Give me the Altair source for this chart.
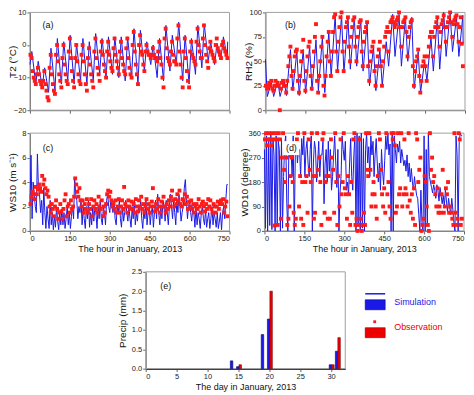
import altair as alt
import pandas as pd

FONT = "Liberation Sans"
BLUE = "#1a1ae8"
RED = "#ff1a1a"
FRAME = "#a0a0a0"
W = 200
H_TOP = 98
H_BOT = 97

OBS_HOURS = [2, 6, 10, 14, 18, 22]
SIM_HOURS = [0, 4, 8, 12, 16, 20]
HOUR_TICKS = [0, 150, 300, 450, 600, 750]
LAST_HOUR = 743

# ---------------- (a) T2 ----------------
t2_sim_first, t2_sim_last = -6, 1
t2_sim_max = [-2, -5, -7, -1, 2, 1, 3, 0.5, 2, 1, 3.5, 2, 2.5, 2.5, 2.5, 2.5,
              5, 4.5, 1, 0, 2, 6, 3, 7, 3, 2, 6, 6.5, 1, 0.5, 2.5]
t2_sim_min = [-12, -13, -14.5, -14, -12, -11, -12, -11, -12, -11, -9, -10, -9, -10, -11, -10,
              -12, -8, -6, -10, -11, -8, -6, -11, -12, -9, -7, -5, -6, -4, -4]
t2_obs = [
    [-3, -4, -8, -10, -11, -12], [-9, -7, -9, -11, -12, -13], [-11, -8, -12, -14, -16, -17],
    [-7, -3, -9, -12, -14, -15], [-3, 0, -5, -9, -11, -13], [-4, 0, -6, -9, -11, -12],
    [-2, 2, -4, -8, -11, -13], [-4, 0, -5, -9, -11, -12], [-3, 0, -5, -9, -12, -14],
    [-4, -1, -6, -9, -11, -13], [-2, 2, -4, -7, -9, -11], [-2, 1, -3, -6, -8, -10],
    [-2, 1, -3, -5, -7, -8], [-1, 2, -3, -5, -7, -9], [-2, 1, -4, -6, -8, -9],
    [-1, 2, -4, -7, -9, -10], [0, 4, -2, -6, -9, -12], [0, 3, -2, -3, -6, -8],
    [-2, 0, -2, -3, -3, -4], [-3, -1, -3, -4, -4, -5], [-2, 1, -4, -6, -10, -13],
    [2, 5, -1, -4, -5, -6], [-2, 1, -3, -5, -5, -6], [2, 6, -2, -6, -10, -13],
    [-2, 2, -4, -8, -11, -13], [-2, 1, -3, -4, -5, -6], [1, 5, 0, -2, -4, -4],
    [2, 6, 0, -3, -5, -7], [-1, 1, -2, -3, -4, -5], [0, 2, -1, -2, -3, -4],
    [0, 1, -1, -2, -3, -4],
]

# ---------------- (b) RH2 ----------------
rh_sim_first, rh_sim_last = 52, 68
rh_sim_min = [14, 14, 14, 15, 20, 15, 17, 20, 20, 18, 35, 40, 38, 42, 45, 40,
              25, 20, 25, 45, 55, 45, 50, 22, 18, 30, 40, 42, 55, 60, 55]
rh_sim_max = [28, 30, 30, 62, 60, 62, 65, 72, 75, 80, 97, 97, 95, 95, 93, 90,
              65, 62, 70, 98, 98, 95, 95, 60, 50, 75, 95, 100, 100, 95, 97]
rh_obs = [
    [25, 22, 25, 28, 25, 30], [22, 20, 25, 30, 25, 28], [25, 0, 22, 28, 30, 25],
    [25, 18, 30, 45, 55, 65], [35, 22, 40, 55, 60, 62], [30, 18, 35, 50, 60, 72],
    [30, 20, 40, 55, 65, 70], [35, 22, 45, 60, 75, 88], [30, 18, 35, 50, 65, 75],
    [25, 15, 35, 55, 70, 80], [50, 35, 60, 80, 95, 98], [60, 40, 70, 85, 95, 100],
    [60, 40, 70, 85, 90, 95], [65, 50, 75, 85, 92, 95], [65, 50, 75, 85, 90, 92],
    [60, 45, 70, 80, 85, 90], [45, 30, 50, 60, 65, 70], [40, 25, 45, 55, 62, 70],
    [45, 25, 50, 65, 75, 80], [85, 60, 80, 90, 92, 95], [90, 85, 88, 92, 95, 100],
    [85, 65, 85, 90, 92, 95], [80, 55, 75, 85, 90, 92], [45, 25, 40, 50, 55, 62],
    [35, 18, 30, 45, 50, 55], [45, 30, 55, 65, 75, 80], [80, 55, 75, 85, 90, 95],
    [85, 65, 80, 88, 92, 97], [85, 70, 85, 90, 95, 100], [90, 75, 88, 92, 95, 97],
    [88, 70, 85, 95, 68, 45],
]

# ---------------- (c) WS10 ----------------
ws_sim_last = 3.8
ws_sim = [
    [2.0, 6.2, 1.0, 4.0, 3.0, 2.0], [1.5, 6.3, 3.5, 3.0, 1.5, 2.5], [0.5, 3.5, 1.5, 0.2, 2.0, 1.0],
    [0.2, 2.5, 0.5, 1.5, 0.1, 1.2], [0.3, 2.0, 0.8, 0.1, 1.5, 0.5], [1.8, 0.5, 1.5, 0.2, 1.0, 2.0],
    [0.5, 1.5, 0.2, 1.2, 2.0, 1.0], [4.4, 3.0, 2.5, 1.0, 2.0, 1.5], [2.5, 0.5, 2.0, 1.0, 0.2, 2.0],
    [1.0, 2.5, 0.3, 1.5, 0.5, 2.0], [0.8, 2.0, 1.5, 0.2, 2.0, 1.0], [2.5, 1.0, 0.5, 2.0, 1.5, 0.5],
    [2.5, 3.0, 2.0, 1.5, 2.5, 2.0], [1.5, 2.5, 1.0, 0.5, 2.0, 1.5], [2.5, 1.0, 0.3, 2.0, 0.8, 1.5],
    [2.5, 1.5, 0.8, 2.0, 1.0, 0.3], [2.0, 1.0, 2.5, 0.5, 1.5, 0.8], [2.0, 1.5, 2.5, 1.0, 0.2, 1.8],
    [1.0, 2.5, 0.5, 1.5, 2.0, 0.5], [1.5, 2.0, 0.3, 1.5, 2.5, 1.0], [3.0, 1.5, 0.5, 2.0, 1.0, 2.5],
    [2.0, 0.8, 2.5, 1.5, 0.5, 2.0], [3.0, 2.0, 1.0, 2.5, 1.5, 0.5], [2.5, 1.5, 3.0, 2.0, 0.8, 1.5],
    [2.0, 3.5, 4.2, 2.5, 1.0, 2.0], [2.5, 1.5, 0.8, 2.0, 1.5, 0.3], [2.0, 0.5, 1.5, 1.0, 0.2, 1.5],
    [2.0, 1.0, 0.5, 1.8, 0.3, 1.0], [1.5, 0.2, 1.0, 2.0, 0.5, 1.5], [1.0, 0.3, 1.5, 0.2, 0.8, 1.5],
    [0.1, 1.5, 2.0, 1.0, 2.5, 3.8],
]
ws_obs = [
    [2.2, 2.8, 3.2, 3.0, 2.6, 3.6], [3.0, 3.4, 3.8, 3.5, 3.2, 4.5], [3.8, 4.2, 3.5, 3.0, 3.3, 2.8],
    [2.0, 1.5, 2.2, 1.8, 1.2, 2.0], [2.5, 1.8, 1.0, 1.5, 2.2, 1.6], [1.0, 1.8, 2.5, 3.0, 1.2, 2.0],
    [2.2, 1.5, 2.5, 1.8, 2.0, 2.8], [4.3, 3.8, 3.2, 2.8, 3.5, 2.5], [2.0, 2.5, 1.5, 2.2, 1.8, 2.6],
    [1.5, 2.2, 1.8, 2.6, 1.2, 2.0], [2.5, 1.8, 2.2, 1.5, 2.8, 2.0], [1.8, 2.5, 1.2, 2.0, 1.5, 2.2],
    [3.0, 3.3, 2.8, 3.2, 2.5, 2.0], [2.2, 1.8, 2.5, 1.5, 2.0, 2.6], [1.5, 2.0, 2.5, 1.8, 3.6, 2.2],
    [2.0, 1.5, 2.5, 2.0, 1.8, 2.4], [1.8, 2.2, 1.5, 2.6, 2.0, 1.6], [2.5, 2.0, 2.8, 1.8, 2.2, 1.5],
    [2.0, 2.6, 1.8, 2.2, 1.5, 2.0], [2.4, 3.5, 2.0, 1.6, 2.2, 1.8], [2.6, 2.0, 1.5, 2.4, 2.0, 2.8],
    [2.0, 1.5, 2.2, 1.8, 2.5, 2.0], [2.8, 3.3, 2.5, 2.0, 2.6, 2.2], [3.0, 2.5, 3.3, 2.2, 2.0, 2.6],
    [2.5, 3.0, 2.2, 2.8, 1.8, 2.4], [2.0, 2.5, 1.8, 2.2, 1.5, 2.0], [2.2, 1.8, 2.6, 2.0, 1.5, 2.2],
    [2.4, 2.0, 1.6, 2.2, 1.8, 2.6], [2.0, 2.5, 1.8, 1.5, 2.2, 2.0], [1.5, 2.0, 2.4, 1.8, 2.2, 2.5],
    [2.2, 2.6, 1.5, 2.0, 2.4, 1.2],
]

# ---------------- (d) WD10 ----------------
wd_sim_last = 350
wd_sim = [
    [300, 10, 350, 0, 330, 20], [360, 5, 340, 280, 0, 350], [20, 330, 300, 0, 340, 10],
    [200, 320, 350, 100, 0, 320], [270, 300, 200, 350, 0, 280], [330, 250, 300, 300, 200, 340],
    [280, 350, 200, 300, 330, 250], [200, 300, 350, 0, 250, 330], [300, 180, 250, 330, 200, 280],
    [280, 330, 100, 250, 300, 180], [330, 220, 300, 150, 200, 280], [350, 250, 160, 300, 0, 140],
    [200, 350, 300, 260, 330, 150], [180, 130, 250, 340, 200, 150], [280, 350, 0, 360, 20, 350],
    [0, 360, 10, 340, 0, 300], [360, 250, 310, 200, 350, 280], [330, 200, 280, 340, 250, 180],
    [250, 150, 300, 220, 170, 260], [350, 300, 360, 280, 320, 0], [360, 0, 350, 300, 250, 320],
    [290, 330, 250, 300, 270, 240], [260, 220, 280, 200, 250, 180], [230, 180, 150, 200, 160, 130],
    [120, 60, 0, 150, 30, 0], [350, 0, 300, 20, 360, 200], [180, 160, 140, 170, 150, 120],
    [170, 150, 110, 160, 130, 100], [130, 90, 150, 110, 70, 120], [90, 60, 120, 80, 30, 0],
    [350, 280, 0, 330, 360, 350],
]
wd_obs = [
    [337, 360, 315, 337, 360, 337], [315, 360, 337, 20, 360, 337], [22, 360, 337, 45, 270, 360],
    [225, 180, 270, 22, 45, 90], [202, 270, 180, 67, 22, 45], [337, 360, 90, 202, 45, 180],
    [22, 360, 180, 202, 67, 337], [225, 180, 360, 202, 45, 67], [202, 360, 225, 270, 180, 22],
    [337, 360, 67, 180, 202, 45], [202, 45, 337, 270, 225, 67], [360, 180, 22, 202, 90, 337],
    [135, 180, 360, 157, 135, 45], [202, 135, 22, 180, 67, 337], [360, 22, 45, 0, 22, 337],
    [45, 0, 22, 67, 22, 360], [225, 202, 360, 225, 90, 135], [180, 135, 90, 45, 202, 360],
    [337, 225, 135, 90, 157, 67], [360, 135, 180, 90, 45, 360], [337, 360, 315, 67, 90, 360],
    [135, 157, 360, 90, 135, 337], [157, 135, 90, 360, 112, 67], [135, 45, 157, 22, 360, 337],
    [180, 225, 270, 0, 22, 45], [202, 180, 90, 22, 0, 360], [225, 270, 180, 202, 135, 90],
    [157, 67, 90, 67, 135, 225], [67, 90, 157, 135, 180, 67], [90, 67, 45, 22, 360, 67],
    [22, 45, 360, 337, 22, 45],
]

# ---------------- (e) Precip ----------------
precip_days_sim = [14, 15, 19, 20, 30, 31]
precip_sim = [0.20, 0.05, 0.88, 1.28, 0.10, 0.45]
precip_days_obs = [15, 20, 30, 31]
precip_obs = [0.10, 2.00, 0.10, 0.80]
DAY_TICKS = [0, 5, 10, 15, 20, 25, 30]
PRECIP_TICKS = [0.0, 0.5, 1.0, 1.5, 2.0, 2.5]


def diurnal(first, a, b, ha, hb, last):
    rows = [(0, first)]
    for d, (va, vb) in enumerate(zip(a, b)):
        rows += [(24 * d + ha, va), (24 * d + hb, vb)]
    rows.append((LAST_HOUR, last))
    return pd.DataFrame(rows, columns=["hour", "value"])


def by_day(rows, hours, last=None):
    recs = [(24 * d + h, v) for d, r in enumerate(rows) for h, v in zip(hours, r)]
    if last is not None:
        recs.append((LAST_HOUR, last))
    return pd.DataFrame(recs, columns=["hour", "value"])


one = pd.DataFrame({"k": [0]})


def frame(w, h):
    return alt.Chart(one).mark_rect(fill="white", fillOpacity=0, stroke=FRAME, strokeWidth=1).encode(
        x=alt.value(0), x2=alt.value(w), y=alt.value(0), y2=alt.value(h))


def text_at(txt, x, y, color="#111111", size=9, align="center"):
    return alt.Chart(pd.DataFrame({"t": [txt]})).mark_text(
        font=FONT, fontSize=size, color=color, align=align, baseline="middle").encode(
        x=alt.value(x), y=alt.value(y), text="t:N")


def hour_panel(sim, obs, ydom, yvals, ytitle, tx, lab, lx, ly, show_x, box=False):
    if show_x:
        xaxis = alt.Axis(values=HOUR_TICKS, title="The hour in January, 2013", titleFontSize=9)
    else:
        xaxis = alt.Axis(values=HOUR_TICKS, labels=False, title=None)
    X = alt.X("hour:Q", scale=alt.Scale(domain=[0, 750], nice=False, zero=False), axis=xaxis)
    Y = alt.Y("value:Q", scale=alt.Scale(domain=ydom, nice=False, zero=False),
              axis=alt.Axis(values=yvals, title=ytitle, titleX=tx, titleY=H_TOP / 2,
                            titleAngle=270, titleAlign="center", titleBaseline="middle"))
    line = alt.Chart(sim).mark_line(color=BLUE, strokeWidth=1).encode(x=X, y=Y)
    pts = alt.Chart(obs).mark_square(color=RED, size=15, opacity=1).encode(x=X, y=Y)
    layers = [frame(W, H_TOP), line, pts]
    if box:
        layers.append(alt.Chart(one).mark_rect(color="white").encode(
            x=alt.value(lx - 8), x2=alt.value(lx + 8), y=alt.value(ly - 7), y2=alt.value(ly + 7)))
    layers.append(text_at(lab, lx, ly))
    return alt.layer(*layers).properties(width=W, height=H_TOP)


pa = hour_panel(diurnal(t2_sim_first, t2_sim_max, t2_sim_min, 7, 22, t2_sim_last),
                by_day(t2_obs, OBS_HOURS), [-20, 10], [-20, -10, 0, 10], "T2 (°C)", -17,
                "(a)", 18, 13, False)
pb = hour_panel(diurnal(rh_sim_first, rh_sim_min, rh_sim_max, 7, 22, rh_sim_last),
                by_day(rh_obs, OBS_HOURS), [0, 100], [0, 25, 50, 75, 100], "RH2 (%)", -16.5,
                "(b)", 25, 13, False)
pc = hour_panel(by_day(ws_sim, SIM_HOURS, ws_sim_last), by_day(ws_obs, OBS_HOURS),
                [0, 8], [0, 2, 4, 6, 8], "WS10 (m s\u207b\u00b9)", -17, "(c)", 18, 15, True)
pdd = hour_panel(by_day(wd_sim, SIM_HOURS, wd_sim_last), by_day(wd_obs, OBS_HOURS),
                 [0, 360], [0, 90, 180, 270, 360], "WD10 (degree)", -20, "(d)", 27, 15, True, box=True)

# ---- (e) ----
sim_df = pd.DataFrame({"day": precip_days_sim, "value": precip_sim})
obs_df = pd.DataFrame({"day": precip_days_obs, "value": precip_obs})
EX = alt.Scale(domain=[0, 32.3], nice=False, zero=False)
EY = alt.Scale(domain=[0, 2.5], nice=False)
ex_axis = alt.Axis(values=DAY_TICKS, title="The day in January, 2013", titleFontSize=9,
                   domainColor="#333333", domainWidth=1.5)
ey_axis = alt.Axis(values=PRECIP_TICKS, format=".1f", title="Precip (mm)", titleX=-23,
                   titleY=H_BOT / 2, titleAngle=270, titleAlign="center", titleBaseline="middle")

bars_sim = alt.Chart(sim_df).transform_calculate(
    x0="datum.day - 0.3", x1="datum.day + 0.1").mark_rect(
    color=BLUE, stroke="#00007a", strokeWidth=0.6).encode(
    x=alt.X("x0:Q", scale=EX, axis=ex_axis), x2="x1:Q",
    y=alt.Y("value:Q", scale=EY, axis=ey_axis), y2=alt.datum(0))
bars_obs = alt.Chart(obs_df).transform_calculate(
    x0="datum.day + 0.1", x1="datum.day + 0.5").mark_rect(
    color="#ee0000", stroke="#7a0000", strokeWidth=0.6).encode(
    x=alt.X("x0:Q", scale=EX, axis=ex_axis), x2="x1:Q",
    y=alt.Y("value:Q", scale=EY, axis=ey_axis), y2=alt.datum(0))

leg = [
    alt.Chart(one).mark_rule(color=BLUE, strokeWidth=1.5).encode(
        x=alt.value(220), x2=alt.value(240), y=alt.value(22)),
    alt.Chart(one).mark_rect(color=BLUE, stroke="#00007a", strokeWidth=0.6).encode(
        x=alt.value(220), x2=alt.value(240), y=alt.value(28), y2=alt.value(38)),
    text_at("Simulation", 249, 30, color=BLUE, size=9, align="left"),
    alt.Chart(one).mark_square(color=RED, size=8, opacity=1).encode(
        x=alt.value(229.5), y=alt.value(50)),
    alt.Chart(one).mark_rect(color="#ee0000", stroke="#7a0000", strokeWidth=0.6).encode(
        x=alt.value(220), x2=alt.value(240), y=alt.value(56), y2=alt.value(66)),
    text_at("Observation", 249, 55, color="#ee0000", size=9, align="left"),
]

pe = alt.layer(frame(W, H_BOT), bars_sim, bars_obs, text_at("(e)", 20, 14), *leg).properties(
    width=W, height=H_BOT)

spacer = alt.Chart(one).mark_point(opacity=0).encode(
    x=alt.value(0), y=alt.value(0)).properties(width=78, height=H_BOT)

top = alt.hconcat(pa, pb, spacing=36, bounds="flush")
mid = alt.hconcat(pc, pdd, spacing=35, bounds="flush")
bottom = alt.hconcat(spacer, pe, spacing=38, bounds="flush")
upper = alt.vconcat(top, mid, spacing=15)

chart = alt.vconcat(upper, bottom, spacing=14).properties(
    padding={"left": 0, "top": 0, "right": 0, "bottom": 0}
).configure_view(strokeWidth=0).configure_axis(
    labelFont=FONT, titleFont=FONT, labelFontSize=7.5, titleFontSize=10,
    titleFontWeight="normal", labelColor="#222222", titleColor="#111111",
    tickColor="#666666", tickSize=3, domain=True, domainColor="#666666", grid=False,
    labelPadding=1, titlePadding=2,
)

chart.save("out.html", embed_options={"renderer": "svg", "actions": False})
